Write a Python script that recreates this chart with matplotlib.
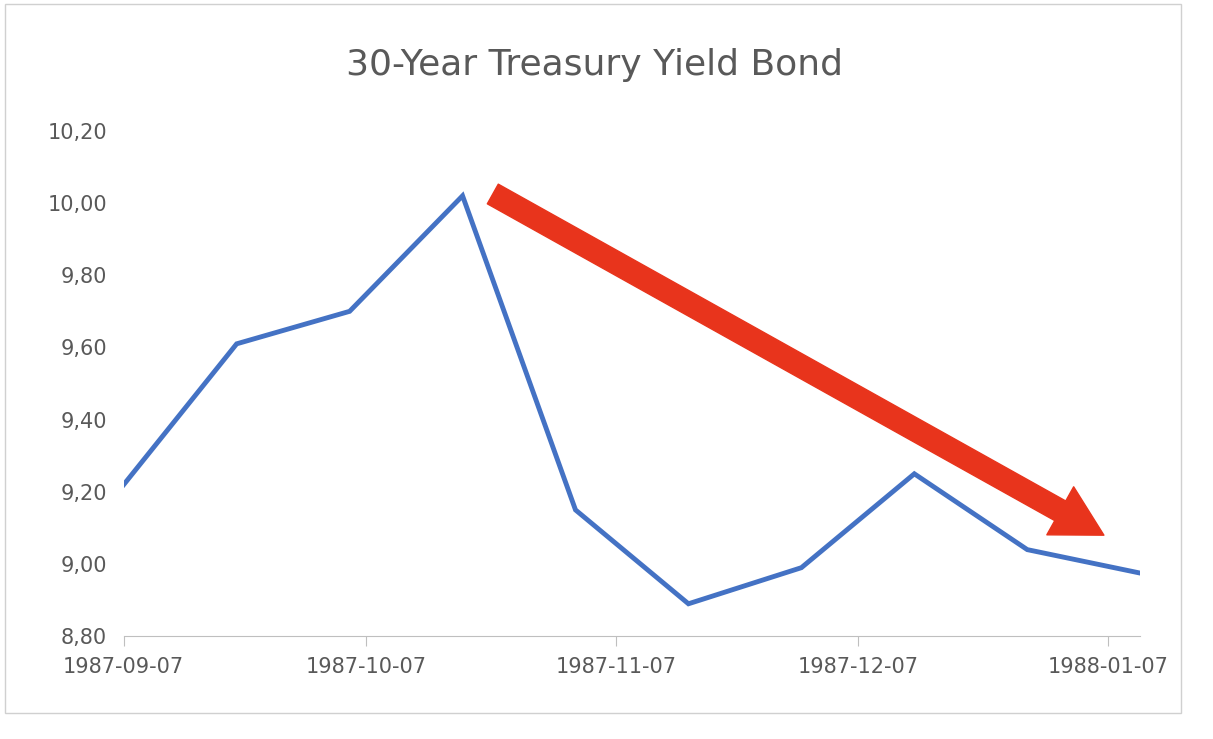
import matplotlib
matplotlib.use("Agg")
import matplotlib.pyplot as plt
import matplotlib.dates as mdates
import numpy as np
import datetime as dt

dates = ["1987-09-07","1987-09-21","1987-10-05","1987-10-19","1987-11-02","1987-11-16",
         "1987-11-30","1987-12-14","1987-12-28","1988-01-11"]
yields = [9.22, 9.61, 9.70, 10.02, 9.15, 8.89, 8.99, 9.25, 9.04, 8.975]
tick_dates = ["1987-09-07","1987-10-07","1987-11-07","1987-12-07","1988-01-07"]
y_ticks = [8.80, 9.00, 9.20, 9.40, 9.60, 9.80, 10.00, 10.20]

x = [dt.datetime.fromisoformat(d) for d in dates]
xt = [dt.datetime.fromisoformat(d) for d in tick_dates]

fig = plt.figure(figsize=(12.13, 7.39), dpi=100)
fig.patches.append(plt.Rectangle((0.004, 0.035), 0.97, 0.96, transform=fig.transFigure,
                                 fill=False, edgecolor="#d0d0d0", lw=1))
ax = fig.add_axes([0.102, 0.139, 0.838, 0.684])
ax.plot(x, yields, color="#4472c4", lw=3.5, solid_joinstyle="miter")
ax.set_ylim(8.80, 10.20)
ax.set_yticks(y_ticks)
ax.set_yticklabels([f"{v:.2f}".replace(".", ",") for v in y_ticks])
ax.set_xlim(x[0], x[-1])
ax.set_xticks(xt)
ax.set_xticklabels(tick_dates)
for s in ["top", "right", "left"]:
    ax.spines[s].set_visible(False)
ax.spines["bottom"].set_color("#bfbfbf")
ax.tick_params(axis="y", length=0, labelsize=15, colors="#595959", pad=12)
ax.tick_params(axis="x", length=7, color="#bfbfbf", labelsize=15, labelcolor="#595959", pad=8)
fig.text(0.49, 0.912, "30-Year Treasury Yield Bond", ha="center", va="center",
         fontsize=26, color="#595959")

start = (mdates.date2num(dt.datetime(1987, 10, 22, 18)), 10.025)
end = (mdates.date2num(dt.datetime(1988, 1, 6, 12)), 9.08)
ax.annotate("", xy=end, xytext=start,
            arrowprops=dict(arrowstyle="simple,head_width=2.2,head_length=2.0,tail_width=0.9",
                            color="#e8341c", mutation_scale=18, shrinkA=0, shrinkB=0),
            annotation_clip=False)
fig.savefig("out.png", dpi=100)
